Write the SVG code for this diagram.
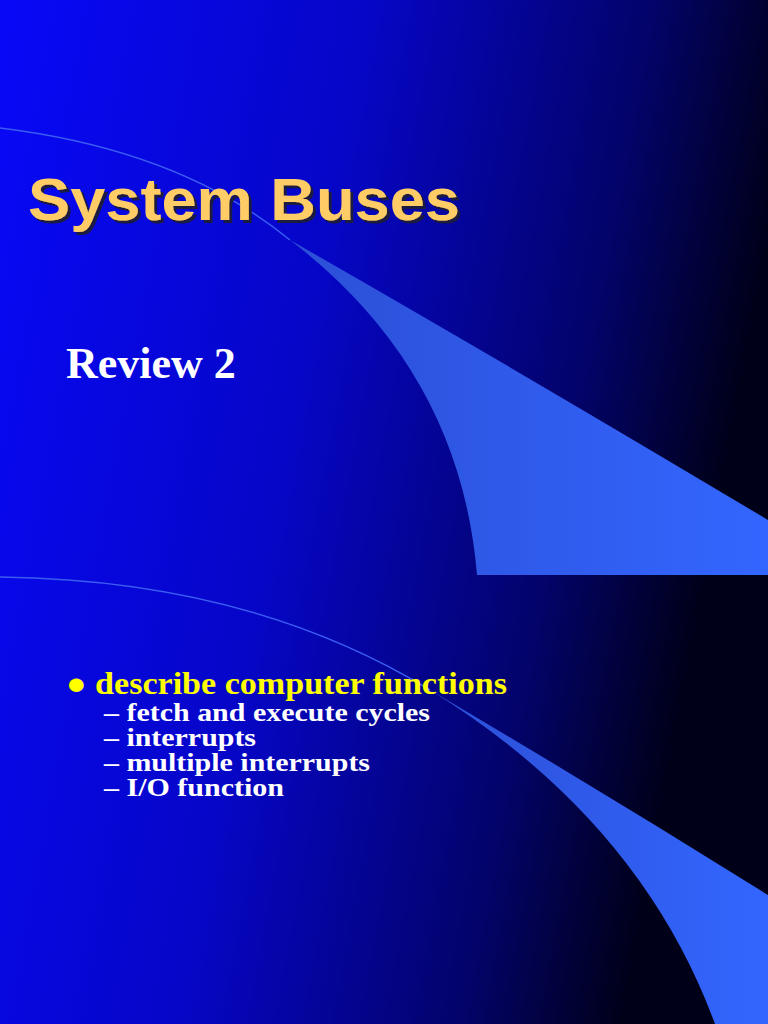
<svg xmlns="http://www.w3.org/2000/svg" width="768" height="1024" viewBox="0 0 768 1024">
<defs>
<linearGradient id="bg" x1="0" y1="0" x2="1" y2="0.25">
<stop offset="0" stop-color="#0808f8"/>
<stop offset="0.45" stop-color="#0606c8"/>
<stop offset="0.8" stop-color="#03036a"/>
<stop offset="1" stop-color="#000018"/>
</linearGradient>
<linearGradient id="sw" x1="0" y1="0" x2="1" y2="0">
<stop offset="0" stop-color="#2c4fd6"/>
<stop offset="1" stop-color="#3366ff"/>
</linearGradient>
<filter id="sh" x="-5%" y="-20%" width="110%" height="140%">
<feOffset in="SourceAlpha" dx="3" dy="3" result="o"/>
<feFlood flood-color="#1a1a40"/>
<feComposite in2="o" operator="in" result="s"/>
<feMerge><feMergeNode in="s"/><feMergeNode in="SourceGraphic"/></feMerge>
</filter>
<style>
.t{font-family:"Liberation Serif",serif;font-weight:bold;fill:#fff;font-size:25px}
</style>
</defs>
<rect width="768" height="1024" fill="url(#bg)"/>
<path d="M0 128 Q180 150 290 240" fill="none" stroke="#3a5cf0" stroke-width="1.5"/>
<path d="M290 240 Q460 370 477 575 L768 575 L768 520 Q500 360 290 240 Z" fill="url(#sw)"/>
<path d="M0 577 Q250 580 430 690" fill="none" stroke="#3a5cf0" stroke-width="1.5"/>
<path d="M430 690 Q640 820 715 1024 L768 1024 L768 895 Q600 790 430 690 Z" fill="url(#sw)"/>
<text x="28" y="220" font-family="Liberation Sans,Arial,sans-serif" font-size="60" font-weight="bold" fill="#ffcc66" filter="url(#sh)" textLength="432" lengthAdjust="spacingAndGlyphs">System Buses</text>
<text x="66" y="378" font-family="Liberation Serif,serif" font-size="44" font-weight="bold" fill="#fff">Review 2</text>
<text x="66" y="694" font-family="Liberation Serif,serif" font-size="31" font-weight="bold" fill="#ffff00" textLength="441" lengthAdjust="spacingAndGlyphs">● describe computer functions</text>
<text class="t" x="104" y="721" textLength="326" lengthAdjust="spacingAndGlyphs">– fetch and execute cycles</text>
<text class="t" x="104" y="746" textLength="152" lengthAdjust="spacingAndGlyphs">– interrupts</text>
<text class="t" x="104" y="771" textLength="266" lengthAdjust="spacingAndGlyphs">– multiple interrupts</text>
<text class="t" x="104" y="796" textLength="180" lengthAdjust="spacingAndGlyphs">– I/O function</text>
</svg>
